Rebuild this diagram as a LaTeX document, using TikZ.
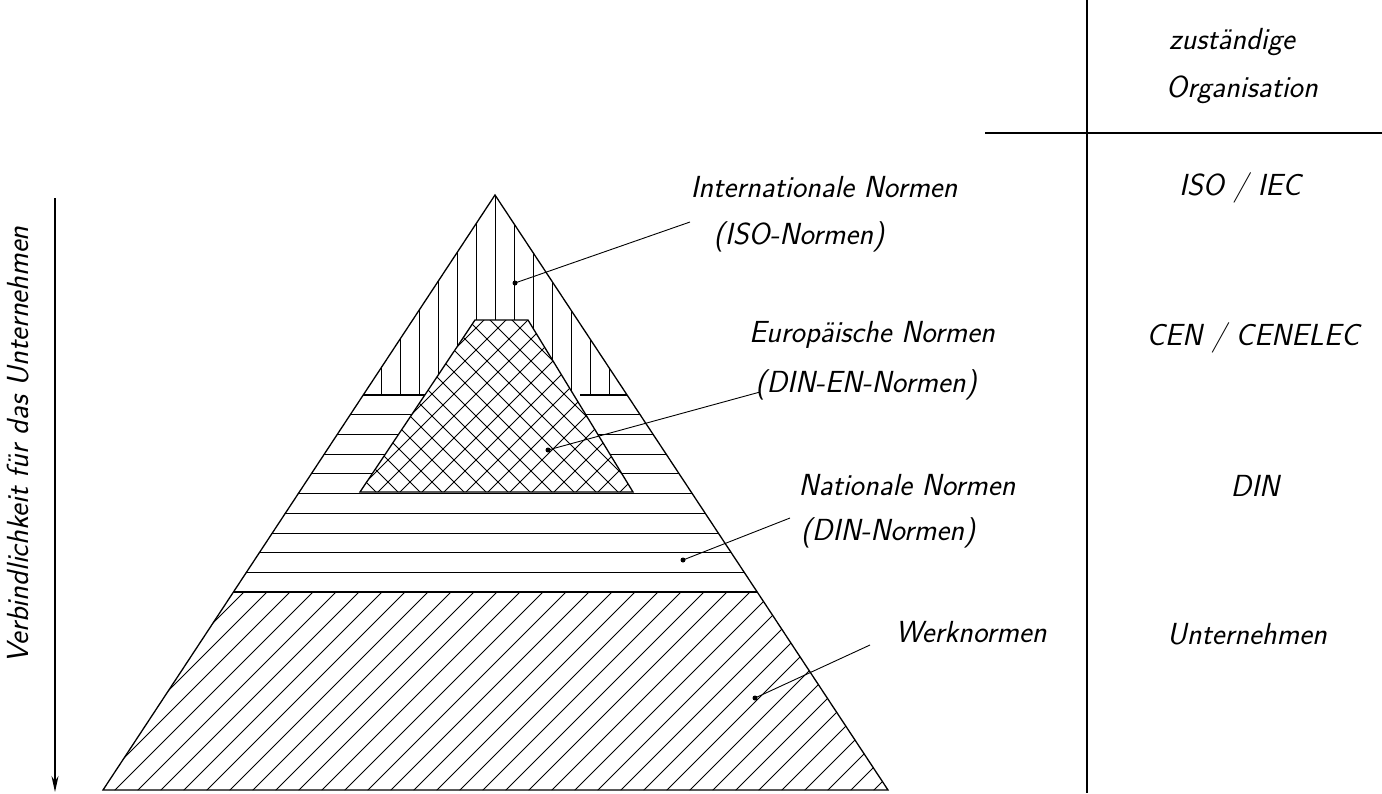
\documentclass[tikz,border=0pt]{standalone}
\usetikzlibrary{arrows.meta}
\begin{document}
\begin{tikzpicture}[x=1pt,y=-1pt,line width=1.3pt,
  lab/.style={font=\fontsize{30.5}{33}\selectfont\sffamily\itshape,inner sep=0pt},
  hatch/.style={line width=0.8pt},
  lead/.style={line width=0.9pt}]
\useasboundingbox (0,0) rectangle (1382,793);
% pyramid coordinates
\coordinate (A) at (495,195);
\coordinate (BL) at (103,790);
\coordinate (BR) at (888,790);
\coordinate (L1) at (363,395); \coordinate (R1) at (627,395);
\coordinate (L2) at (233,592); \coordinate (R2) at (757,592);
\coordinate (T1) at (475,320); \coordinate (T2) at (528,320);
\coordinate (T3) at (633,492); \coordinate (T4) at (360,492);
% vertical hatch top
\begin{scope}
\clip (A) -- (R1) -- (L1) -- cycle;
\foreach \x in {381,400,...,640} \draw[hatch] (\x,190) -- (\x,400);
\end{scope}
% horizontal hatch
\begin{scope}
\clip (L1) -- (R1) -- (R2) -- (L2) -- cycle;
\foreach \k in {1,...,9} \draw[hatch] (200,395+19.7*\k) -- (800,395+19.7*\k);
\end{scope}
% diagonal hatch bottom
\begin{scope}
\clip (L2) -- (R2) -- (BR) -- (BL) -- cycle;
\foreach \i in {-120,-97,...,900} \draw[hatch] (\i,795) -- ({\i+210},585);
\end{scope}
% trapezoid
\fill[white] (T1) -- (T2) -- (T3) -- (T4) -- cycle;
\begin{scope}
\clip (T1) -- (T2) -- (T3) -- (T4) -- cycle;
\foreach \i in {150,172,...,800} {
  \draw[hatch] (\i,500) -- ({\i+190},310);
  \draw[hatch] (\i,310) -- ({\i+190},500);
}
\end{scope}
\draw (T1) -- (T2) -- (T3) -- (T4) -- cycle;
\draw (L1) -- (425,395);
\draw (580,395) -- (R1);
\draw (L2) -- (R2);
\draw (A) -- (BR) -- (BL) -- cycle;
% labels
\node[lab] (int) at (824,187) {Internationale Normen};
\node[lab] (intb) at (799,237) {(ISO-Normen)};
\node[lab] (eu) at (872,335) {Europäische Normen};
\node[lab] (eub) at (866,385) {(DIN-EN-Normen)};
\node[lab] (na) at (907,485) {Nationale Normen};
\node[lab] (nab) at (888,533) {(DIN-Normen)};
\node[lab] (we) at (971,632) {Werknormen};
% leaders
\coordinate (p1) at (515,283); \coordinate (q1) at (690,222);
\coordinate (p2) at (548,450); \coordinate (q2) at (760,392);
\coordinate (p3) at (683,560); \coordinate (q3) at (790,518);
\coordinate (p4) at (755,698); \coordinate (q4) at (870,645);
\foreach \n in {1,2,3,4} {\draw[lead] (p\n) -- (q\n); \fill (p\n) circle (2.5);}
% right column
\coordinate (v1) at (1087,0); \coordinate (v2) at (1087,793);
\coordinate (h1) at (985,133); \coordinate (h2) at (1382,133);
\draw (v1) -- (v2); \draw (h1) -- (h2);
\node[lab] (z1) at (1232,42) {zuständige};
\node[lab] (z2) at (1242,90) {Organisation};
\node[lab] (o1) at (1240,188) {ISO / IEC};
\node[lab] (o2) at (1253,338) {CEN / CENELEC};
\node[lab] (o3) at (1255,486) {DIN};
\node[lab] (o4) at (1247,634) {Unternehmen};
% left arrow
\coordinate (a1) at (55,198); \coordinate (a2) at (55,792);
\draw[-{Stealth[length=16pt,width=7pt]}] (a1) -- (a2);
\node[lab,rotate=90] (vb) at (18,445) {Verbindlichkeit für das Unternehmen};
\end{tikzpicture}
\end{document}
